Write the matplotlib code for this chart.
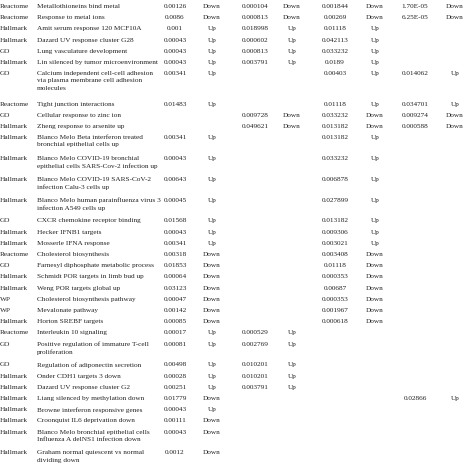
import matplotlib.pyplot as plt

sources = ['Reactome', 'Reactome', 'Hallmark', 'Hallmark', 'GO', 'Hallmark', 'GO', 'Reactome', 'GO', 'Hallmark',
           'Hallmark', 'Hallmark', 'Hallmark', 'Hallmark', 'GO', 'Hallmark', 'Hallmark', 'Reactome', 'GO', 'Hallmark',
           'Hallmark', 'WP', 'WP', 'Hallmark', 'Reactome', 'GO', 'GO', 'Hallmark', 'Hallmark', 'Hallmark',
           'Hallmark', 'Hallmark', 'Hallmark', 'Hallmark']

terms = [
    'Metallothioneins bind metal',
    'Response to metal ions',
    'Amit serum response 120 MCF10A',
    'Dazard UV response cluster G28',
    'Lung vasculature development',
    'Lin silenced by tumor microenvironment',
    'Calcium independent cell-cell adhesion\nvia plasma membrane cell adhesion\nmolecules',
    'Tight junction interactions',
    'Cellular response to zinc ion',
    'Zheng response to arsenite up',
    'Blanco Melo Beta interferon treated\nbronchial epithelial cells up',
    'Blanco Melo COVID-19 bronchial\nepithelial cells SARS-Cov-2 infection up',
    'Blanco Melo COVID-19 SARS-CoV-2\ninfection Calu-3 cells up',
    'Blanco Melo human parainfluenza virus 3\ninfection A549 cells up',
    'CXCR chemokine receptor binding',
    'Hecker IFNB1 targets',
    'Mosserle IFNA response',
    'Cholesterol biosynthesis',
    'Farnesyl diphosphate metabolic process',
    'Schmidt POR targets in limb bud up',
    'Weng POR targets global up',
    'Cholesterol biosynthesis pathway',
    'Mevalonate pathway',
    'Horton SREBF targets',
    'Interleukin 10 signaling',
    'Positive regulation of immature T-cell\nproliferation',
    'Regulation of adiponectin secretion',
    'Onder CDH1 targets 3 down',
    'Dazard UV response cluster G2',
    'Liang silenced by methylation down',
    'Browne interferon responsive genes',
    'Croonquist IL6 deprivation down',
    'Blanco Melo bronchial epithelial cells\nInfluenza A delNS1 infection down',
    'Graham normal quiescent vs normal\ndividing down',
]

# (p value, direction) for each of four comparisons; '' = not significant
set1 = [('0.00126', 'Down'), ('0.0086', 'Down'), ('0.001', 'Up'), ('0.00043', 'Up'), ('0.00043', 'Up'),
        ('0.00043', 'Up'), ('0.00341', 'Up'), ('0.01483', 'Up'), ('', ''), ('', ''),
        ('0.00341', 'Up'), ('0.00043', 'Up'), ('0.00643', 'Up'), ('0.00045', 'Up'), ('0.01568', 'Up'),
        ('0.00043', 'Up'), ('0.00341', 'Up'), ('0.00318', 'Down'), ('0.01853', 'Down'), ('0.00064', 'Down'),
        ('0.03123', 'Down'), ('0.00047', 'Down'), ('0.00142', 'Down'), ('0.00085', 'Down'), ('0.00017', 'Up'),
        ('0.00081', 'Up'), ('0.00498', 'Up'), ('0.00028', 'Up'), ('0.00251', 'Up'), ('0.01779', 'Down'),
        ('0.00043', 'Up'), ('0.00111', 'Down'), ('0.00043', 'Down'), ('0.0012', 'Down')]
set2 = [('0.000104', 'Down'), ('0.000813', 'Down'), ('0.018998', 'Up'), ('0.000602', 'Up'), ('0.000813', 'Up'),
        ('0.003791', 'Up'), ('', ''), ('', ''), ('0.009728', 'Down'), ('0.049621', 'Down')] + [('', '')] * 14 + \
       [('0.000529', 'Up'), ('0.002769', 'Up'), ('0.010201', 'Up'), ('0.010201', 'Up'), ('0.003791', 'Up')] + [('', '')] * 5
set3 = [('0.001844', 'Down'), ('0.00269', 'Down'), ('0.01118', 'Up'), ('0.042113', 'Up'), ('0.033232', 'Up'),
        ('0.0189', 'Up'), ('0.00403', 'Up'), ('0.01118', 'Up'), ('0.033232', 'Down'), ('0.013182', 'Down'),
        ('0.013182', 'Up'), ('0.033232', 'Up'), ('0.006878', 'Up'), ('0.027899', 'Up'), ('0.013182', 'Up'),
        ('0.009306', 'Up'), ('0.003021', 'Up'), ('0.003408', 'Down'), ('0.01118', 'Down'), ('0.000353', 'Down'),
        ('0.00687', 'Down'), ('0.000353', 'Down'), ('0.001967', 'Down'), ('0.000618', 'Down')] + [('', '')] * 10
set4 = [('1.70E-05', 'Down'), ('6.25E-05', 'Down'), ('', ''), ('', ''), ('', ''), ('', ''),
        ('0.014062', 'Up'), ('0.034701', 'Up'), ('0.009274', 'Down'), ('0.000588', 'Down')] + [('', '')] * 19 + \
       [('0.02866', 'Up')] + [('', '')] * 4

fig = plt.figure(figsize=(4.74, 4.74), dpi=100)
ax = fig.add_axes([0, 0, 1, 1])
ax.set_xlim(0, 474)
ax.set_ylim(474, 0)
ax.axis('off')

font = dict(family='Liberation Serif', fontsize=5.2, color='#222222', va='top')
col_x = [(175, 212), (255, 292), (335, 375), (415, 455)]
y = 4
for i, term in enumerate(terms):
    n = term.count('\n') + 1
    ax.text(0, y, sources[i], ha='left', linespacing=1.55, **font)
    ax.text(37, y, term, ha='left', linespacing=1.55, **font)
    for (xv, xd), s in zip(col_x, [set1, set2, set3, set4]):
        val, d = s[i]
        ax.text(xv, y, val, ha='center', **font)
        ax.text(xd, y, d, ha='center', **font)
    y += 11.2 + 9.6 * (n - 1)

fig.savefig('out.png', dpi=100, facecolor='white')
